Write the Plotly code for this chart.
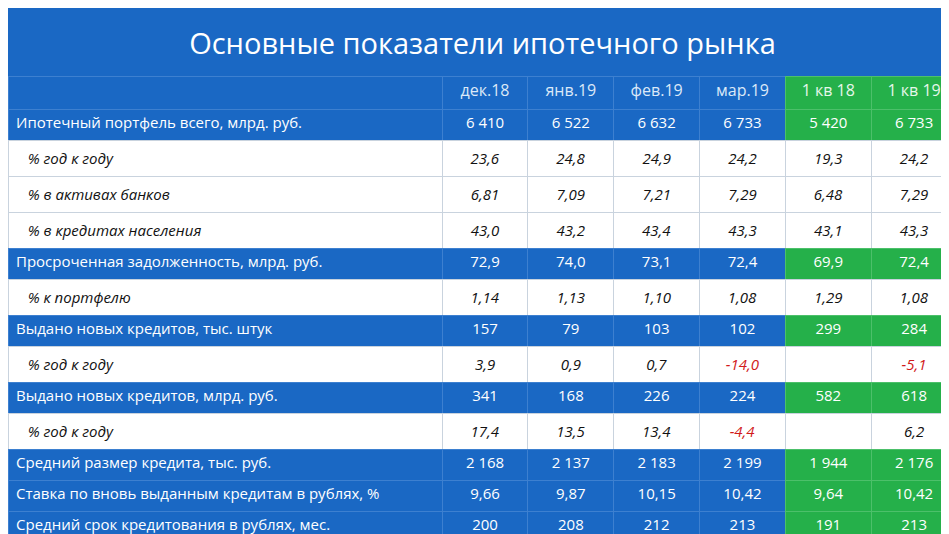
import plotly.graph_objects as go

title = "Основные показатели ипотечного рынка"
columns = ["дек.18", "янв.19", "фев.19", "мар.19", "1 кв 18", "1 кв 19"]
labels = [
    "Ипотечный портфель всего, млрд. руб.", "% год к году", "% в активах банков",
    "% в кредитах населения", "Просроченная задолженность, млрд. руб.", "% к портфелю",
    "Выдано новых кредитов, тыс. штук", "% год к году", "Выдано новых кредитов, млрд. руб.",
    "% год к году", "Средний размер кредита, тыс. руб.",
    "Ставка по вновь выданным кредитам в рублях, %", "Средний срок кредитования в рублях, мес.",
]
sub_row = [False, True, True, True, False, True, False, True, False, True, False, False, False]
values = [
    ["6 410", "6 522", "6 632", "6 733", "5 420", "6 733"],
    ["23,6", "24,8", "24,9", "24,2", "19,3", "24,2"],
    ["6,81", "7,09", "7,21", "7,29", "6,48", "7,29"],
    ["43,0", "43,2", "43,4", "43,3", "43,1", "43,3"],
    ["72,9", "74,0", "73,1", "72,4", "69,9", "72,4"],
    ["1,14", "1,13", "1,10", "1,08", "1,29", "1,08"],
    ["157", "79", "103", "102", "299", "284"],
    ["3,9", "0,9", "0,7", "-14,0", "", "-5,1"],
    ["341", "168", "226", "224", "582", "618"],
    ["17,4", "13,5", "13,4", "-4,4", "", "6,2"],
    ["2 168", "2 137", "2 183", "2 199", "1 944", "2 176"],
    ["9,66", "9,87", "10,15", "10,42", "9,64", "10,42"],
    ["200", "208", "212", "213", "191", "213"],
]

BLUE = "#1a68c4"
GREEN = "#25b04a"
WHITE = "#ffffff"

cell_text, fills, fcolors, lcolors = [], [], [], []
cell_text.append([("\u00a0\u00a0\u00a0<i>" + l + "</i>") if s else l for l, s in zip(labels, sub_row)])
fills.append([WHITE if s else BLUE for s in sub_row])
fcolors.append(["#111111" if s else WHITE for s in sub_row])
lcolors.append(["#c9d3de" if s else "#3d80d0" for s in sub_row])
for j in range(len(columns)):
    green = j >= 4
    col_t, col_f, col_c, col_l = [], [], [], []
    for i, s in enumerate(sub_row):
        v = values[i][j]
        if s:
            col_t.append("<i>" + v + "</i>")
            col_f.append(WHITE)
            col_c.append("#d11a1a" if v.startswith("-") else "#111111")
            col_l.append("#c9d3de")
        else:
            col_t.append(v)
            col_f.append(GREEN if green else BLUE)
            col_c.append(WHITE)
            col_l.append("#4cc06a" if green else "#3d80d0")
    cell_text.append(col_t); fills.append(col_f); fcolors.append(col_c); lcolors.append(col_l)

fig = go.Figure(go.Table(
    domain=dict(x=[0, 1], y=[0, 1 - 68 / 534]),
    columnwidth=[430, 85, 85, 85, 85, 85, 85],
    header=dict(
        values=[""] + columns,
        fill_color=[BLUE, BLUE, BLUE, BLUE, BLUE, GREEN, GREEN],
        line_color=["#3d80d0"] * 5 + ["#4cc06a"] * 2,
        font=dict(family="Open Sans", size=16, color=["#dce9f8"] * 5 + ["#e6f7ea"] * 2),
        align="center", height=33,
    ),
    cells=dict(
        values=cell_text,
        fill_color=fills,
        line_color=lcolors,
        font=dict(family="Open Sans", size=15, color=fcolors),
        align=["left"] + ["center"] * 6,
        height=31,
    ),
))
fig.update_layout(
    width=949, height=534, margin=dict(l=0, r=0, t=0, b=0),
    paper_bgcolor=BLUE,
    title=dict(text=title, x=0.5, y=1 - 36 / 534, xanchor="center", yanchor="middle",
               font=dict(family="Open Sans", size=29, color="white")),
)
fig.write_html("out.html")
